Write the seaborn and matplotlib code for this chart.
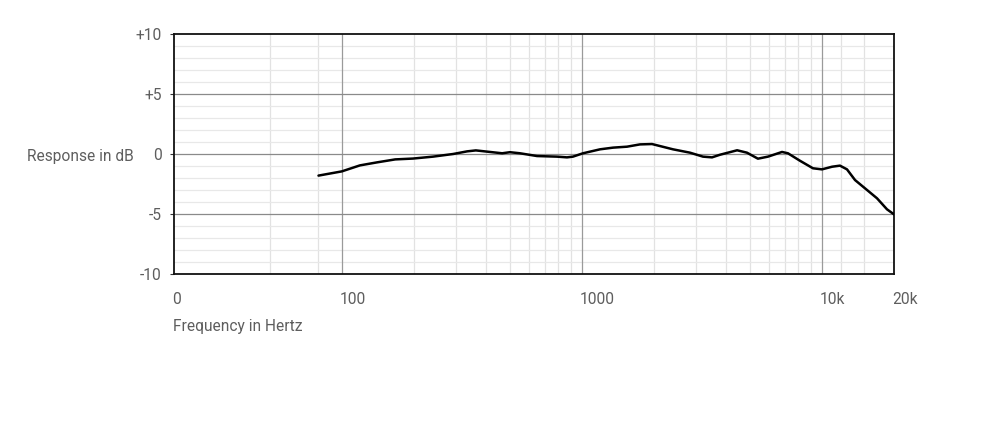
import matplotlib
matplotlib.use('Agg')
import matplotlib.pyplot as plt
import matplotlib.transforms as mtransforms
import numpy as np
import pandas as pd
import seaborn as sns

# Frequency response (Hz, dB)
freq_hz = [80, 100, 119, 140, 167, 198, 240, 291, 333, 362, 415, 466, 502, 553,
           651, 788, 868, 919, 1012, 1192, 1350, 1544, 1748, 1962, 2400, 2825,
           3200, 3490, 3770, 4440, 4880, 5420, 5970, 6830, 7230, 8110, 9190,
           10020, 11040, 11910, 12740, 13760, 15440, 16990, 18700, 20000]
response_db = [-1.8, -1.45, -0.95, -0.7, -0.45, -0.38, -0.22, 0.0, 0.22, 0.3,
               0.17, 0.06, 0.15, 0.06, -0.17, -0.22, -0.28, -0.22, 0.06, 0.39,
               0.53, 0.61, 0.8, 0.83, 0.39, 0.11, -0.22, -0.28, -0.06, 0.31,
               0.11, -0.39, -0.22, 0.17, 0.06, -0.56, -1.19, -1.28, -1.06,
               -0.97, -1.28, -2.17, -3.0, -3.69, -4.61, -5.03]

x_ticks = [20, 100, 1000, 10000, 20000]
x_tick_labels = ['0', '100', '1000', '10k', '20k']
x_minor = [50, 80, 200, 300, 400, 500, 600, 700, 800, 900,
           2000, 3000, 4000, 5000, 6000, 7000, 8000, 9000, 12000, 15000]
y_ticks = [-10, -5, 0, 5, 10]
y_tick_labels = ['-10', '-5', '0', '+5', '+10']
y_minor = [v for v in range(-10, 11) if v % 5 != 0]

df = pd.DataFrame({'freq': freq_hz, 'db': response_db})

sns.set_style('white')
plt.rcParams['font.family'] = ['Roboto', 'DejaVu Sans']
text_col = '#5e5e5e'
fs = 11.2

fig = plt.figure(figsize=(9.9, 4.41), dpi=100)
ax = fig.add_axes([174 / 990, 1 - 274 / 441, 720 / 990, 240 / 441])

ax.set_xscale('log')
ax.set_xlim(20, 20000)
ax.set_ylim(-10, 10)

# grid: light minor lines, darker major lines
for f in x_minor:
    ax.axvline(f, color='#e2e2e2', lw=0.9, zorder=1)
for v in y_minor:
    ax.axhline(v, color='#e8e8e8', lw=0.9, zorder=1)
for f in [100, 1000, 10000]:
    ax.axvline(f, color='#9a9a9a', lw=0.9, zorder=2)
for v in [-5, 0, 5]:
    ax.axhline(v, color='#8a8a8a', lw=0.9, zorder=2)

sns.lineplot(data=df, x='freq', y='db', color='black', lw=1.8, ax=ax, zorder=3)

ax.set_xticks(x_ticks)
ax.set_xticklabels(x_tick_labels, ha='left')
ax.xaxis.set_minor_locator(matplotlib.ticker.NullLocator())
ax.set_yticks(y_ticks)
ax.set_yticklabels(y_tick_labels)
ax.tick_params(axis='x', length=0, pad=13, labelsize=fs, labelcolor=text_col)
ax.tick_params(axis='y', length=3, width=0.8, color='#333333', pad=6,
               labelsize=fs, labelcolor=text_col, left=True)

# nudge x labels so they start just at the tick
shift = mtransforms.ScaledTranslation(-2 / 100, 0, fig.dpi_scale_trans)
for lab in ax.get_xticklabels():
    lab.set_transform(lab.get_transform() + shift)

for s in ax.spines.values():
    s.set_visible(True)
    s.set_color('#111111')
    s.set_linewidth(1.3)

ax.set_xlabel('')
ax.set_ylabel('')
fig.text(27 / 990, 1 - 157 / 441, 'Response in dB', ha='left', va='center',
         fontsize=fs, color=text_col)
fig.text(173 / 990, 1 - 326 / 441, 'Frequency in Hertz', ha='left', va='center',
         fontsize=fs, color=text_col)

fig.savefig('out.png', dpi=100)
